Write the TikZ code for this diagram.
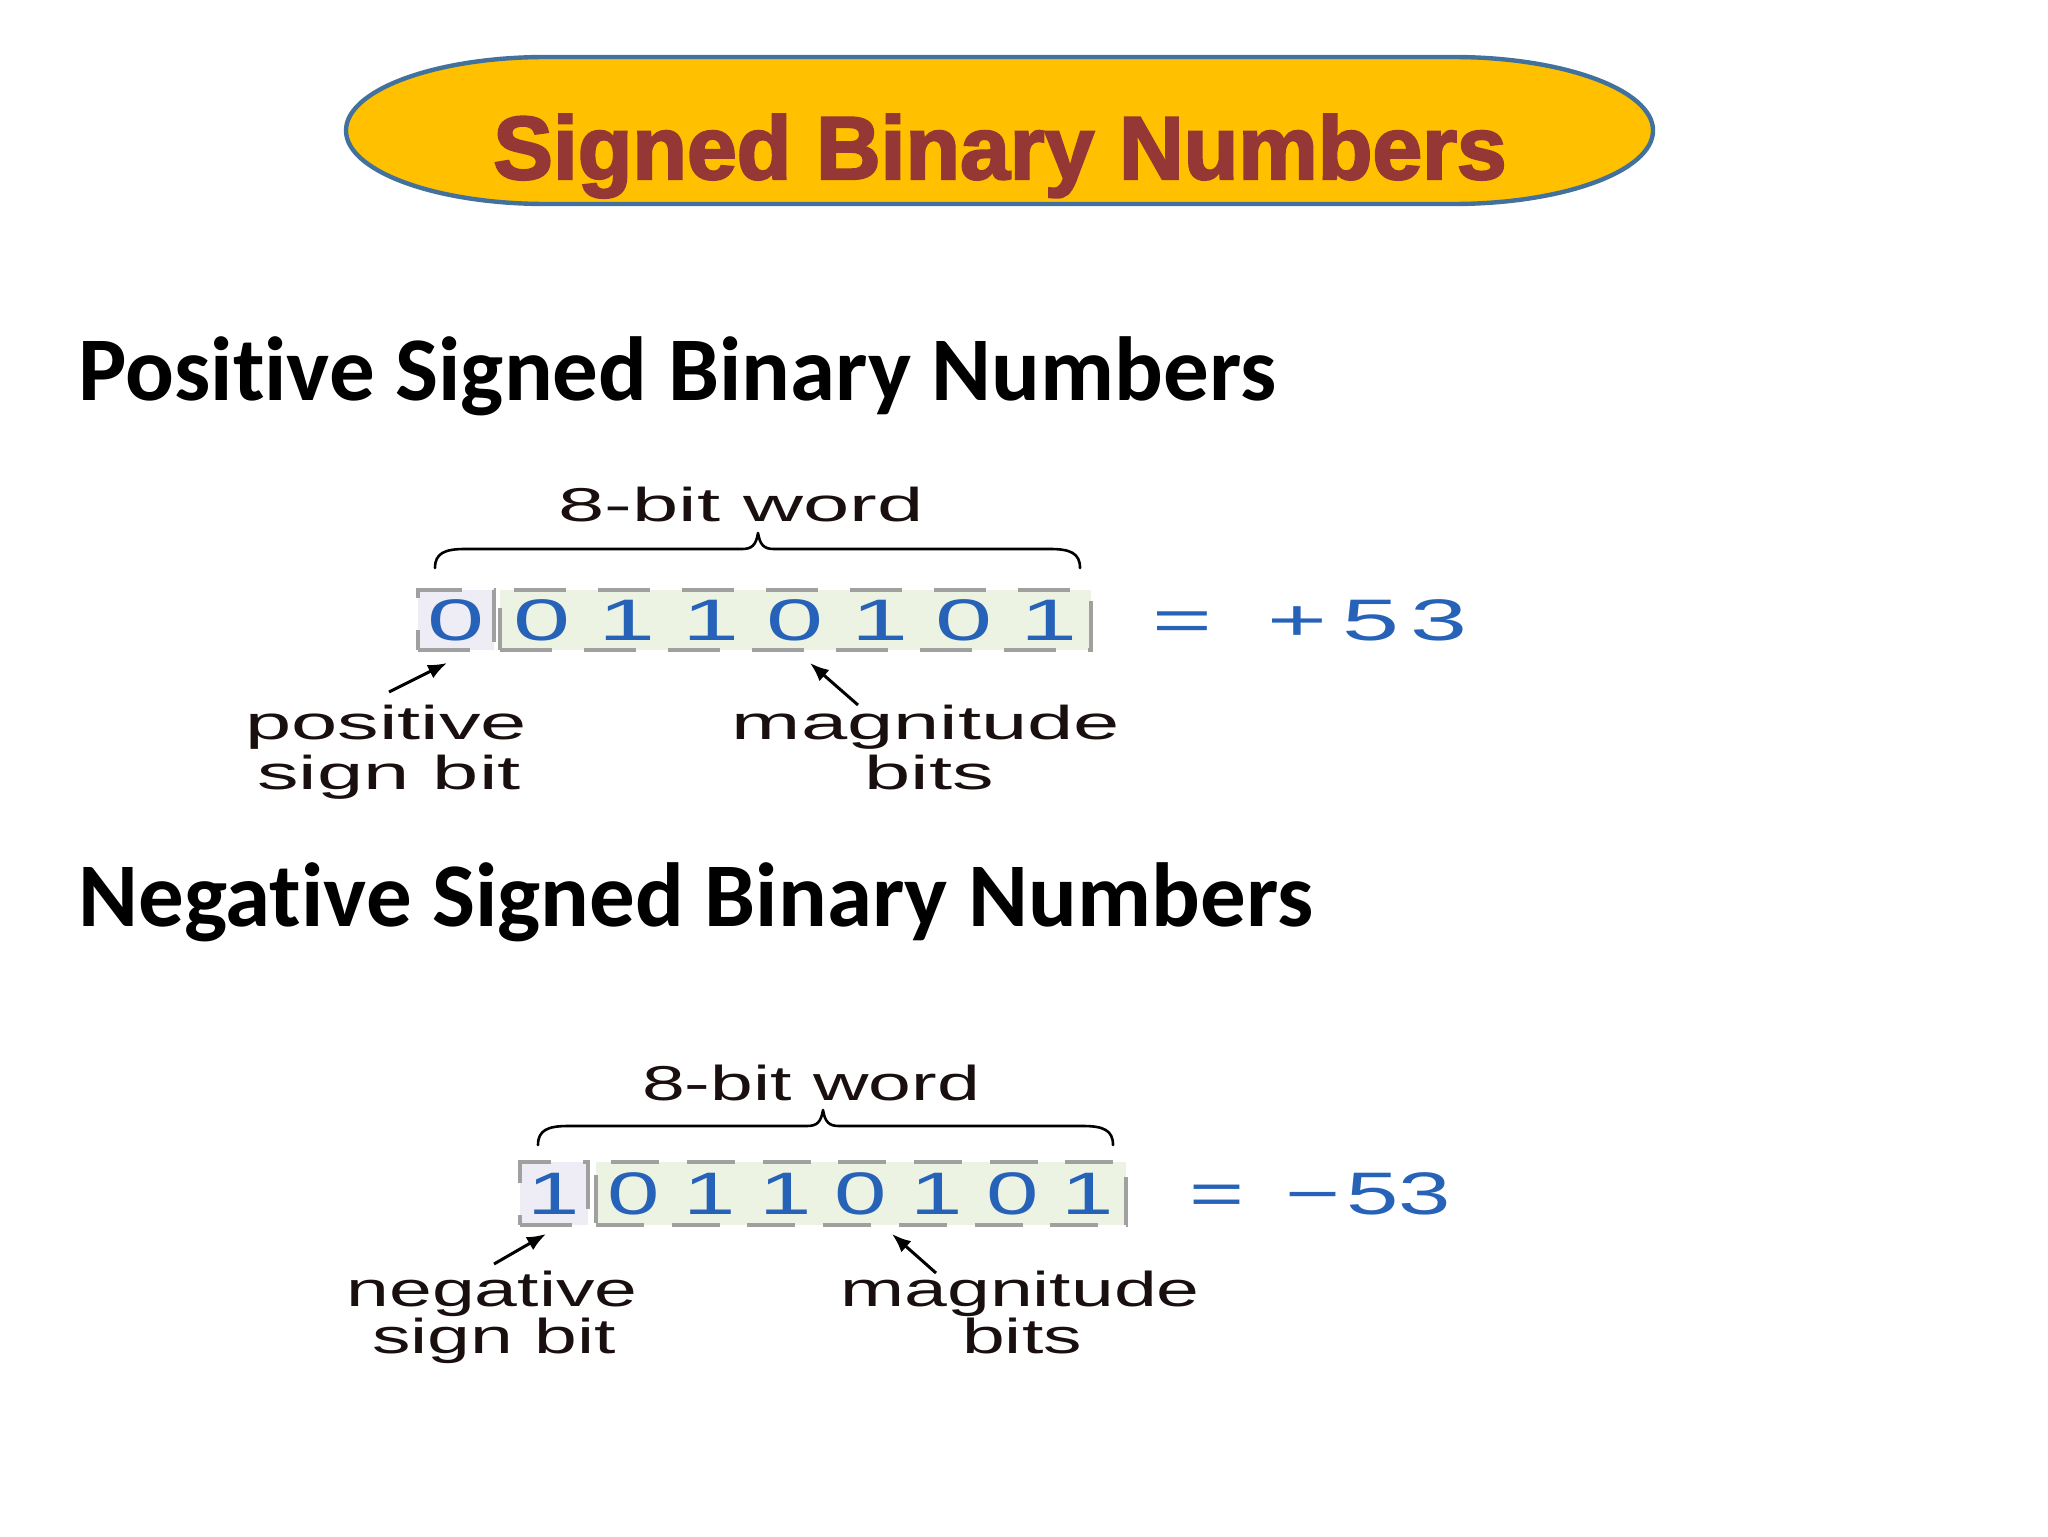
\documentclass[tikz,border=0pt]{standalone}
\usepackage{fontspec}
\usepackage{graphicx}
\usetikzlibrary{arrows.meta}
\setmainfont{Liberation Sans}
\newfontfamily\headfont{Carlito}[Ligatures=CommonOff]
\newfontfamily\lblfontP{Liberation Sans}[FakeStretch=1.75]
\newfontfamily\lblfontN{Liberation Sans}[FakeStretch=1.57]
\font\titlef="Liberation Sans Bold:embolden=2.6" at 44.7pt
\definecolor{titlefill}{RGB}{255,192,0}
\definecolor{titleborder}{RGB}{65,113,156}
\definecolor{titletext}{RGB}{149,55,53}
\definecolor{digitcol}{RGB}{38,98,184}
\definecolor{labelcol}{RGB}{25,15,15}
\definecolor{signfill}{RGB}{238,237,246}
\definecolor{magfill}{RGB}{236,243,226}
\definecolor{dashcol}{RGB}{160,160,160}
\begin{document}
\begin{tikzpicture}[x=0.5pt,y=-0.5pt,
  titleshape/.style={draw=titleborder, line width=2.2pt, fill=titlefill},
  titletxt/.style={font=\titlef, text=titletext, inner sep=0pt, anchor=base},
  heading/.style={font=\headfont\bfseries\fontsize{45.5}{54}\selectfont, text=black, inner sep=0pt, anchor=base west},
  lblP/.style={font=\lblfontP\fontsize{23.75}{28}\selectfont, text=labelcol, inner sep=0pt, anchor=base},
  lblN/.style={font=\lblfontN\fontsize{24.5}{28}\selectfont, text=labelcol, inner sep=0pt, anchor=base},
  digP/.style={font=\lblfontP\fontsize{29.3}{34}\selectfont, text=digitcol, inner sep=0pt, anchor=base},
  digN/.style={font=\lblfontN\fontsize{30}{34}\selectfont, text=digitcol, inner sep=0pt, anchor=base},
  cellbox/.style={draw=dashcol, line width=2pt, dash pattern=on 26pt off 16pt, inner sep=0pt},
  brace/.style={draw=black, line width=1.3pt, line cap=round, line join=round},
  arr/.style={-{Latex[length=9.5pt,width=7.5pt]}, line width=1.5pt, draw=black}
]
\useasboundingbox (0,0) rectangle (2048,1536);
\fill[white] (0,0) rectangle (2048,1536);

% title
\path[titleshape] (546,57) -- (1453,57)
  arc[start angle=90, end angle=-90, x radius=100pt, y radius=36.75pt]
  -- (546,204)
  arc[start angle=270, end angle=90, x radius=100pt, y radius=36.75pt] -- cycle;
\node[titletxt] (titletext) at (1000,179) {Signed Binary Numbers};

% headings
\node[heading] (hpos) at (78,400) {Positive Signed Binary Numbers};
\node[heading] (hneg) at (78,926) {Negative Signed Binary Numbers};

% ---------- positive diagram ----------
\node[lblP] (pword) at (741,521) {8-bit word};
\draw[brace] (435,568) .. controls (435,553) and (445,549) .. (465,549) -- (742,549)
  .. controls (752,549) and (756,545) .. (758,533) .. controls (760,545) and (764,549) .. (774,549)
  -- (1050,549) .. controls (1070,549) and (1080,553) .. (1080,568);
\node[cellbox, fill=signfill, minimum width=38pt, minimum height=30pt] (psign) at (456,620) {};
\node[cellbox, fill=magfill, minimum width=295.5pt, minimum height=30pt] (pmag) at (795.5,620) {};
\node[digP] (pd0) at (456,640) {0};
\foreach \d [count=\i] in {0,1,1,0,1,0,1}{
  \node[digP] (pd\i) at ({500+84.4*(\i-0.5)},640) {\d};
}
\node[digP] (peq) at (1182,640) {=};
\node[digP] (pplus) at (1297,640) {+};
\node[digP] (pfive) at (1371,640) {5};
\node[digP] (pthree) at (1439,640) {3};
\node[lblP] (ppos1) at (386,739) {positive};
\node[lblP] (ppos2) at (389,789) {sign bit};
\node[lblP] (pmag1) at (926,739) {magnitude};
\node[lblP] (pmag2) at (929,789) {bits};
\coordinate (pa1t) at (389,692);
\coordinate (pa1h) at (447,663);
\coordinate (pa2t) at (858,705);
\coordinate (pa2h) at (810,663);
\draw[arr] (pa1t) -- (pa1h);
\draw[arr] (pa2t) -- (pa2h);

% ---------- negative diagram ----------
\node[lblN] (nword) at (811,1100) {8-bit word};
\draw[brace] (538,1145) .. controls (538,1130) and (548,1126) .. (568,1126) -- (807,1126)
  .. controls (817,1126) and (821,1122) .. (823,1110) .. controls (825,1122) and (829,1126) .. (839,1126)
  -- (1083,1126) .. controls (1103,1126) and (1113,1130) .. (1113,1145);
\node[cellbox, fill=signfill, minimum width=34pt, minimum height=31.5pt] (nsign) at (554,1193.5) {};
\node[cellbox, fill=magfill, minimum width=265pt, minimum height=31.5pt, dash pattern=on 24pt off 13.85pt] (nmag) at (861,1193.5) {};
\node[digN] (nd0) at (554,1214) {1};
\foreach \d [count=\i] in {0,1,1,0,1,0,1}{
  \node[digN] (nd\i) at ({596+75.7*(\i-0.5)},1214) {\d};
}
\node[digN] (neq) at (1217,1214) {=};
\node[digN] (nminus) at (1313,1214) {−};
\node[digN] (nfive) at (1373,1214) {5};
\node[digN] (nthree) at (1425,1214) {3};
\node[lblN] (nneg1) at (492,1306) {negative};
\node[lblN] (nneg2) at (494,1353) {sign bit};
\node[lblN] (nmag1) at (1020,1306) {magnitude};
\node[lblN] (nmag2) at (1022,1353) {bits};
\coordinate (na1t) at (494,1264);
\coordinate (na1h) at (546,1234);
\coordinate (na2t) at (936,1273);
\coordinate (na2h) at (892,1234);
\draw[arr] (na1t) -- (na1h);
\draw[arr] (na2t) -- (na2h);
\end{tikzpicture}
\end{document}
